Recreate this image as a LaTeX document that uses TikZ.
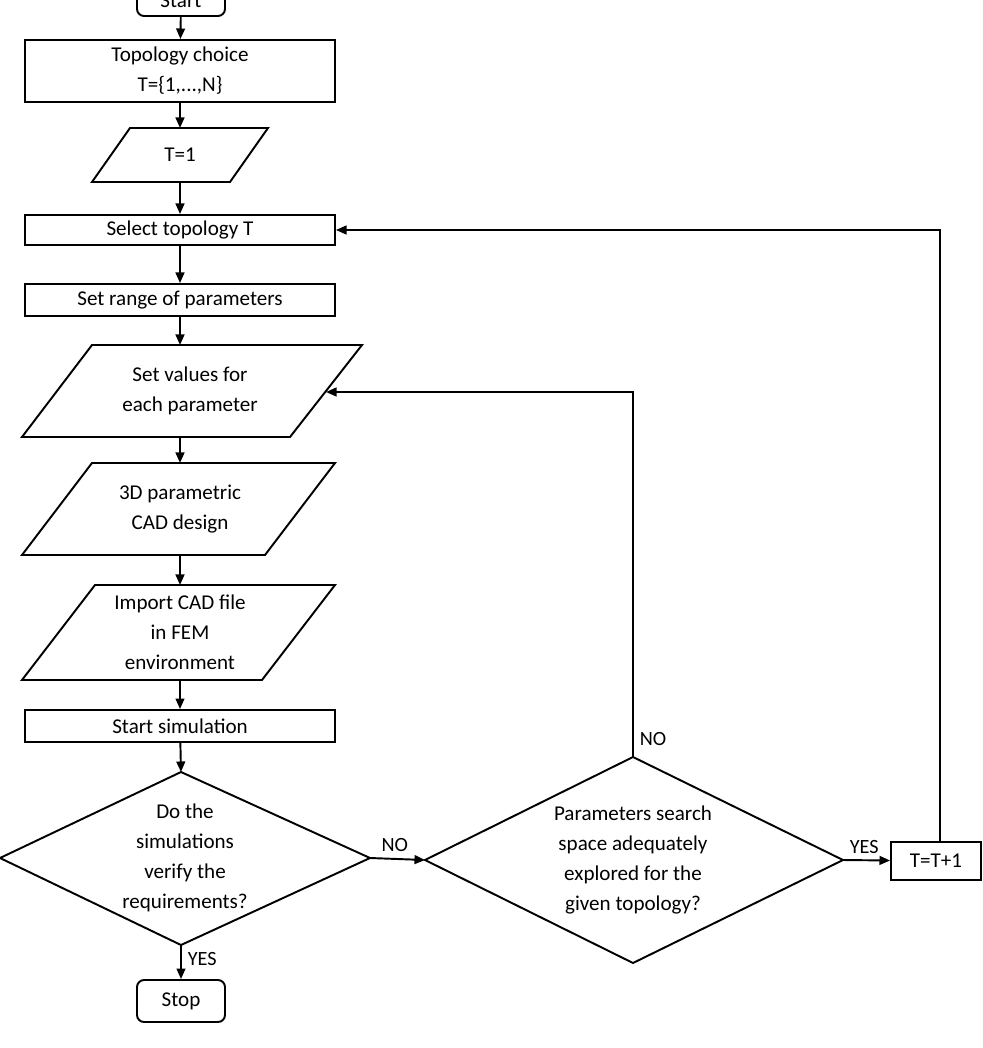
\documentclass[tikz,border=0pt]{standalone}
\usepackage{fontspec}
\setmainfont{Carlito}
\usetikzlibrary{shapes.geometric,arrows.meta}
\begin{document}
\begin{tikzpicture}[x=0.02cm,y=-0.02cm,line width=1.1pt,
  every node/.style={font=\fontsize{12}{17}\selectfont,align=center},
  box/.style={draw,rectangle,inner sep=0pt},
  arr/.style={-{Triangle[length=6pt,width=5pt]}},
  lab/.style={font=\fontsize{11.5}{14}\selectfont}]
\useasboundingbox (0,0) rectangle (983,1048);
% nodes
\node[box,rounded corners=4pt,minimum width=88*0.02cm,minimum height=30*0.02cm] (start) at (181,1) {Start};
\node[box,minimum width=310*0.02cm,minimum height=62*0.02cm] (topo) at (180,71) {Topology choice\\T=\{1,...,N\}};
\draw (130,128) -- (268,128) -- (230,182) -- (92,182) -- cycle;
\node (t1) at (180,155) {T=1};
\coordinate (t1n) at (180,128); \coordinate (t1s) at (180,182);
\node[box,minimum width=310*0.02cm,minimum height=30*0.02cm] (sel) at (180,230) {Select topology T};
\node[box,minimum width=310*0.02cm,minimum height=32*0.02cm] (rng) at (180,300) {Set range of parameters};
\draw (92,345) -- (362,345) -- (290,437) -- (22,437) -- cycle;
\node (val) at (190,391) {Set values for\\each parameter};
\coordinate (valn) at (180,345); \coordinate (vals) at (180,437); \coordinate (vale) at (326,392);
\draw (92,463) -- (335,463) -- (265,555) -- (22,555) -- cycle;
\node (cad) at (180,509) {3D parametric\\CAD design};
\coordinate (cadn) at (180,463); \coordinate (cads) at (180,555);
\draw (95,585) -- (335,585) -- (262,680) -- (22,680) -- cycle;
\node (imp) at (180,632) {Import CAD file\\in FEM\\environment};
\coordinate (impn) at (180,585); \coordinate (imps) at (180,680);
\node[box,minimum width=310*0.02cm,minimum height=32*0.02cm] (sim) at (180,726) {Start simulation};
\draw (181,772) -- (370,858) -- (181,945) -- (0,858) -- cycle;
\node (d1) at (185,858) {Do the\\simulations\\verify the\\requirements?};
\coordinate (d1n) at (181,772); \coordinate (d1s) at (181,945); \coordinate (d1e) at (370,858);
\node[box,rounded corners=4pt,minimum width=88*0.02cm,minimum height=42*0.02cm] (stop) at (181,1001) {Stop};
\draw (633,757) -- (843,860) -- (633,963) -- (425,860) -- cycle;
\node (d2) at (633,860) {Parameters search\\space adequately\\explored for the\\given topology?};
\coordinate (d2n) at (633,757); \coordinate (d2w) at (425,860); \coordinate (d2e) at (843,860);
\node[box,minimum width=90*0.02cm,minimum height=38*0.02cm] (inc) at (936,861) {T=T+1};
\coordinate (up) at (940,842);
% connectors
\draw[arr] (start) -- (topo);
\draw[arr] (topo) -- (t1n);
\draw[arr] (t1s) -- (sel);
\draw[arr] (sel) -- (rng);
\draw[arr] (rng) -- (valn);
\draw[arr] (vals) -- (cadn);
\draw[arr] (cads) -- (impn);
\draw[arr] (imps) -- (sim);
\draw[arr] (sim) -- (d1n);
\draw[arr] (d1s) -- node[lab,right,pos=0.4]{YES} (stop);
\draw[arr] (d1e) -- node[lab,above,pos=0.45]{NO} (d2w);
\draw[arr] (d2n) -- node[lab,pos=0.05,right]{NO} (d2n |- vale) -- (vale);
\draw[arr] (d2e) -- node[lab,above,pos=0.45]{YES} (inc);
\draw[arr] (up) -- (up |- sel.east) -- (sel.east);
\end{tikzpicture}
\end{document}
